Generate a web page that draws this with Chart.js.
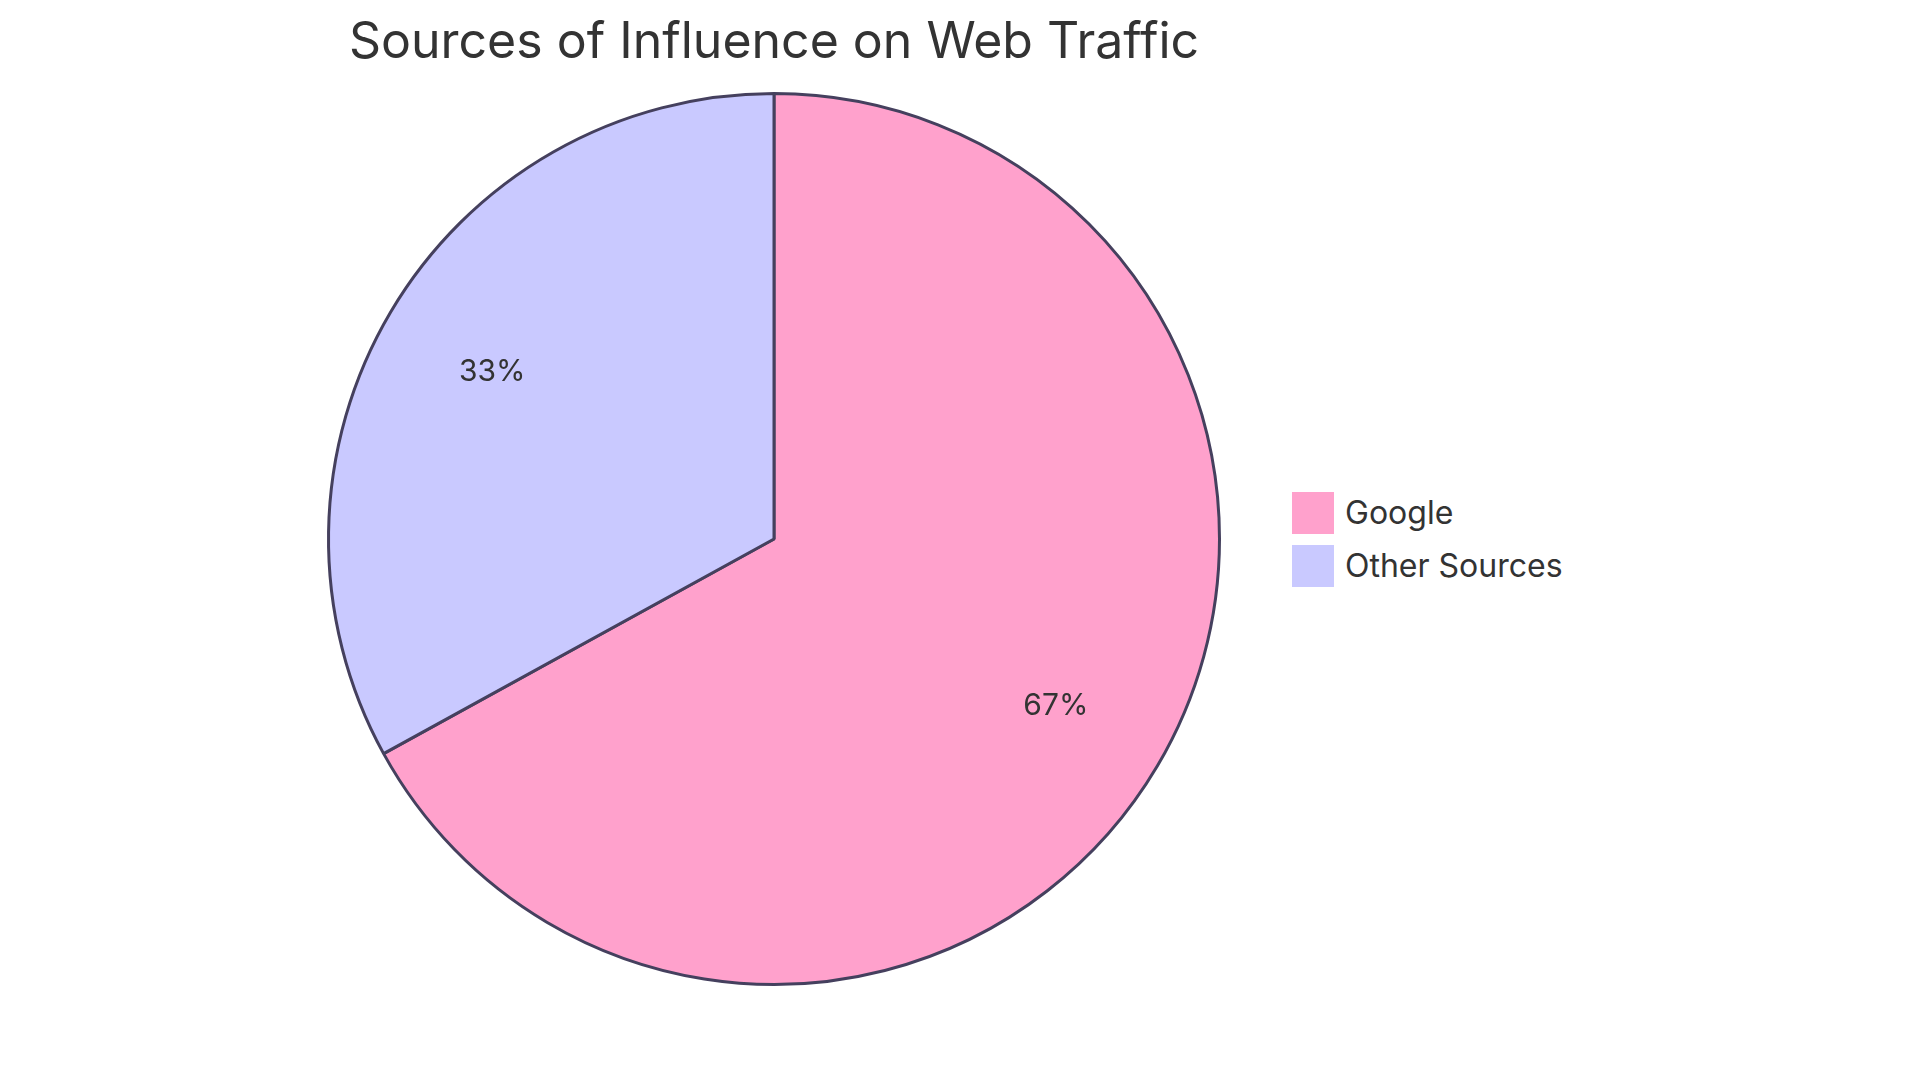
<!DOCTYPE html>
<html><head><meta charset="utf-8">
<script src="https://cdn.jsdelivr.net/npm/chart.js@4"></script>
<style>
body{margin:0;width:1920px;height:1080px;background:#fff;font-family:Inter,"Noto Sans",sans-serif;color:#333;position:relative;overflow:hidden}
#title{position:absolute;left:0;width:1548px;top:10px;text-align:center;font-size:50px;font-weight:400;color:#333}
#wrap{position:absolute;left:319px;top:84px;width:910px;height:910px}
#legend{position:absolute;left:1291px;top:486px;font-size:32px;color:#333}
.item{display:flex;align-items:center;height:53px}
.sw{width:44px;height:44px;margin-right:10px;box-sizing:border-box;border:1px solid #fff}
</style></head><body>
<div id="title">Sources of Influence on Web Traffic</div>
<div id="wrap"><canvas id="c"></canvas></div>
<div id="legend"></div>
<script>
const categories=["Google","Other Sources"];
const values=[67,33];
const colors=["#FFA1CC","#C9C9FF"];
const lg=document.getElementById('legend');
categories.forEach((c,i)=>{lg.innerHTML+=`<div class="item"><div class="sw" style="background:${colors[i]}"></div><span>${c}</span></div>`;});
const labelPlugin={id:'pl',afterDatasetsDraw(chart){
 const ctx=chart.ctx;const meta=chart.getDatasetMeta(0);const total=values.reduce((a,b)=>a+b,0);
 ctx.save();ctx.font='30px Inter, sans-serif';ctx.fillStyle='#333';ctx.textAlign='center';ctx.textBaseline='middle';
 meta.data.forEach((arc,i)=>{const a=(arc.startAngle+arc.endAngle)/2;const r=arc.outerRadius*0.735;
  ctx.fillText(Math.round(values[i]/total*100)+'%',arc.x+Math.cos(a)*r,arc.y+Math.sin(a)*r);});
 ctx.restore();}};
new Chart(document.getElementById('c'),{type:'pie',
 data:{labels:categories,datasets:[{data:values,backgroundColor:colors,borderColor:'#45405E',borderWidth:3}]},
 options:{responsive:true,maintainAspectRatio:false,animation:false,layout:{padding:8},
  plugins:{legend:{display:false},tooltip:{enabled:false}}},
 plugins:[labelPlugin]});
</script></body></html>
